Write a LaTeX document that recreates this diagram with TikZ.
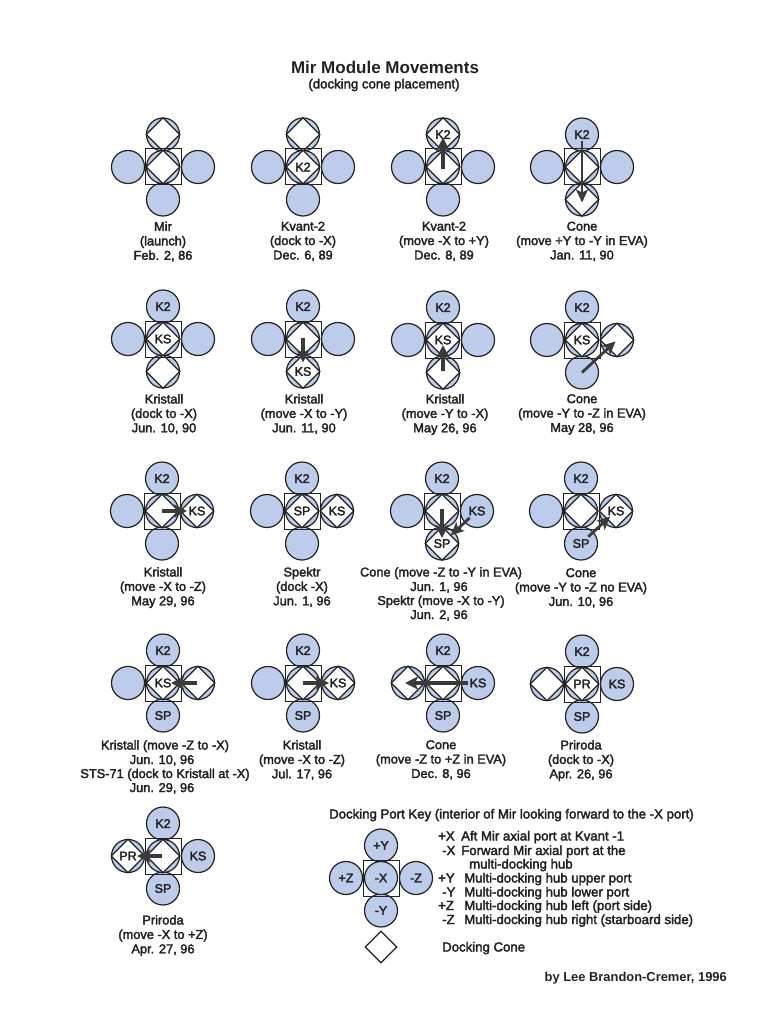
\documentclass[tikz,border=0pt]{standalone}
\usepackage{fontspec}
\setmainfont{Liberation Sans}
\newfontfamily\medf{Liberation Sans}[BoldFont={Liberation Sans},BoldFeatures={FakeBold=2.6}]
\usetikzlibrary{shapes.geometric,arrows.meta}
\definecolor{portblue}{HTML}{BDCCEB}
\definecolor{ink}{HTML}{222222}
\definecolor{arrowink}{HTML}{3A3A3A}
\tikzset{
  portc/.style={circle,draw=ink,line width=1.2pt,fill=portblue,minimum size=33pt,inner sep=0pt,text=ink,font=\medf\bfseries\fontsize{12.5}{14}\selectfont},
  cone/.style={diamond,aspect=1,draw=ink,line width=1.2pt,fill=white,minimum size=34pt,inner sep=0pt,text=ink,font=\medf\bfseries\fontsize{12.5}{14}\selectfont},
  hub/.style={rectangle,draw=ink,line width=1pt,minimum size=36pt,inner sep=0pt},
  mv/.style={draw=arrowink,line width=3.4pt,-{Stealth[length=13pt,width=13pt,inset=3pt]}},
  mvthin/.style={draw=arrowink,line width=2.8pt,-{Stealth[length=13pt,width=12pt,inset=3pt]}},
  caption/.style={anchor=north,inner sep=0pt,align=center,text=ink,font=\medf\bfseries\fontsize{12.8}{14.4}\selectfont},
  line/.style={anchor=base,inner sep=0pt,text=ink,font=\medf\bfseries\fontsize{12.8}{14.4}\selectfont},
  legend/.style={anchor=base west,inner sep=0pt,text=ink,font=\medf\bfseries\fontsize{13.2}{14}\selectfont},
}
\def\mkport#1#2#3#4{\mkportb{#1}{#2}{#3}#4\relax}
\def\mkportb#1#2#3#4/#5\relax{%
  \ifx\relax#4\relax
    \node[portc] (#1) at (#2,#3) {#5};
  \else
    \node[portc] (#1) at (#2,#3) {};
    \node[cone] (#1d) at (#2,#3) {#5};
  \fi}
% id, x, y, top, bottom, left, right, centre
\newcommand\mircell[8]{%
  \pgfmathsetmacro\xl{#2-35}\pgfmathsetmacro\xr{#2+35}%
  \pgfmathsetmacro\yt{#3-32.5}\pgfmathsetmacro\yb{#3+32.5}%
  \mkport{#1t}{#2}{\yt}{#4}%
  \mkport{#1b}{#2}{\yb}{#5}%
  \mkport{#1l}{\xl}{#3}{#6}%
  \mkport{#1r}{\xr}{#3}{#7}%
  \mkport{#1c}{#2}{#3}{#8}%
  \node[hub] (#1h) at (#2,#3) {};}
\begin{document}
\begin{tikzpicture}[x=1pt,y=-1pt]
\useasboundingbox (0,0) rectangle (768,1024);
\node[inner sep=0pt,text=ink,font=\bfseries\fontsize{17}{20}\selectfont] (title) at (385,67) {Mir Module Movements};
\node[inner sep=0pt,text=ink,font=\medf\bfseries\fontsize{13.2}{14}\selectfont] (sub) at (384,85) {(docking cone placement)};

\mircell{aa}{163}{167}{d/}{/}{/}{/}{d/}
\mircell{ab}{303}{167}{d/}{/}{/}{/}{d/K2}
\mircell{ac}{443}{167}{d/K2}{/}{/}{/}{d/}
\mircell{ad}{582}{167}{/K2}{d/}{/}{/}{d/}
\mircell{ba}{163}{339}{/K2}{d/}{/}{/}{d/KS}
\mircell{bb}{303}{339}{/K2}{d/KS}{/}{/}{d/}
\mircell{bc}{443}{340}{/K2}{d/}{/}{/}{d/KS}
\mircell{bd}{582}{340}{/K2}{/}{/}{d/}{d/KS}
\mircell{ca}{162}{511}{/K2}{/}{/}{d/KS}{d/}
\mircell{cb}{302}{511}{/K2}{/}{/}{d/KS}{d/SP}
\mircell{cc}{442}{511}{/K2}{d/SP}{/}{/KS}{d/}
\mircell{cd}{581}{511}{/K2}{/SP}{/}{d/KS}{d/}
\mircell{da}{163}{683}{/K2}{/SP}{/}{d/}{d/KS}
\mircell{db}{303}{683}{/K2}{/SP}{/}{d/KS}{d/}
\mircell{dc}{443}{683}{/K2}{/SP}{d/}{/KS}{d/}
\mircell{dd}{582}{684}{/K2}{/SP}{d/}{/KS}{d/PR}
\mircell{ea}{163}{856}{/K2}{/SP}{d/PR}{/KS}{d/}
\mircell{ka}{381}{878}{/+Y}{/-Y}{/+Z}{/-Z}{/-X}

% movements
\draw[mv,shorten <=-2pt,shorten >=3pt] (acc.center) -- (act.center);
\draw[mvthin,shorten <=7pt,shorten >=-3pt] (adt.center) -- (adb.center);
\draw[mv,shorten <=-1pt,shorten >=9pt] (bbc.center) -- (bbb.center);
\draw[mv,shorten <=2pt,shorten >=5pt] (bcb.center) -- (bcc.center);
\draw[mvthin,shorten >=2pt] (bdb.center) -- (bdr.center);
\draw[mv,shorten >=10pt] (cac.center) -- (car.center);
\draw[mv,shorten <=-2pt,shorten >=5.5pt] (ccc.center) -- (ccb.center);
\draw[mvthin,shorten <=10pt,shorten >=12pt] (ccr.center) -- (ccb.center);
\draw[mvthin,shorten <=10pt,shorten >=8pt] (cdb.center) -- (cdr.center);
\draw[mv,shorten <=1pt,shorten >=8pt] (dar.center) -- (dac.center);
\draw[mv,shorten >=9pt] (dbc.center) -- (dbr.center);
\draw[mv,shorten <=10pt,shorten >=-3pt] (dcr.center) -- (dcl.center);
\draw[mv,shorten <=1pt,shorten >=9pt] (eac.center) -- (eal.center);

% captions
\node[caption] (capaa) at (163,221.5) {Mir\\(launch)\\Feb. 2, 86};
\node[caption] (capab) at (303,221.5) {Kvant-2\\(dock to -X)\\Dec. 6, 89};
\node[caption] (capac) at (444,221.5) {Kvant-2\\(move -X to +Y)\\Dec. 8, 89};
\node[caption] (capad) at (582,221.5) {Cone\\(move +Y to -Y in EVA)\\Jan. 11, 90};
\node[caption] (capba) at (164,394) {Kristall\\(dock to -X)\\Jun. 10, 90};
\node[caption] (capbb) at (304,394) {Kristall\\(move -X to -Y)\\Jun. 11, 90};
\node[caption] (capbc) at (445,394) {Kristall\\(move -Y to -X)\\May 26, 96};
\node[caption] (capbd) at (582,394) {Cone\\(move -Y to -Z in EVA)\\May 28, 96};
\node[caption] (capca) at (163,567) {Kristall\\(move -X to -Z)\\May 29, 96};
\node[caption] (capcb) at (302,567) {Spektr\\(dock -X)\\Jun. 1, 96};
\node[line] (capcca) at (441,576.5) {Cone (move -Z to -Y in EVA)};
\node[line] (capccb) at (439,591) {Jun. 1, 96};
\node[line] (capccc) at (441,605) {Spektr (move -X to -Y)};
\node[line] (capccd) at (439,619) {Jun. 2, 96};
\node[caption] (capcd) at (581,568) {Cone\\(move -Y to -Z no EVA)\\Jun. 10, 96};
\node[line] (capdaa) at (165,749.5) {Kristall (move -Z to -X)};
\node[line] (capdab) at (162,764) {Jun. 10, 96};
\node[line] (capdac) at (165,778) {STS-71 (dock to Kristall at -X)};
\node[line] (capdad) at (162,792) {Jun. 29, 96};
\node[caption] (capdb) at (302,740) {Kristall\\(move -X to -Z)\\Jul. 17, 96};
\node[caption] (capdc) at (441,740) {Cone\\(move -Z to +Z in EVA)\\Dec. 8, 96};
\node[caption] (capdd) at (581,740) {Priroda\\(dock to -X)\\Apr. 26, 96};
\node[caption] (capea) at (163,915) {Priroda\\(move -X to +Z)\\Apr. 27, 96};

% key
\node[legend] (keyhead) at (329,818.5) {Docking Port Key (interior of Mir looking forward to the -X port)};
\node[legend] (k1a) at (438,840.5) {+X};  \node[legend] (k1b) at (461,840.5) {Aft Mir axial port at Kvant -1};
\node[legend] (k2a) at (442,855) {-X};  \node[legend] (k2b) at (461,855) {Forward Mir axial port at the};
\node[legend] (k3b) at (469,868.5) {multi-docking hub};
\node[legend] (k4a) at (438,882.5) {+Y};  \node[legend] (k4b) at (464,882.5) {Multi-docking hub upper port};
\node[legend] (k5a) at (442,896.5) {-Y};  \node[legend] (k5b) at (464,896.5) {Multi-docking hub lower port};
\node[legend] (k6a) at (438,910) {+Z};  \node[legend] (k6b) at (464,910) {Multi-docking hub left (port side)};
\node[legend] (k7a) at (442,924) {-Z};  \node[legend] (k7b) at (464,924) {Multi-docking hub right (starboard side)};
\node[cone,minimum size=32pt] (keycone) at (381,947) {};
\node[legend] (keyconetext) at (442,951.5) {Docking Cone};
\node[anchor=base east,inner sep=0pt,text=ink,font=\bfseries\fontsize{12.9}{14}\selectfont] (credit) at (727,981.5) {by Lee Brandon-Cremer, 1996};
\end{tikzpicture}
\end{document}
